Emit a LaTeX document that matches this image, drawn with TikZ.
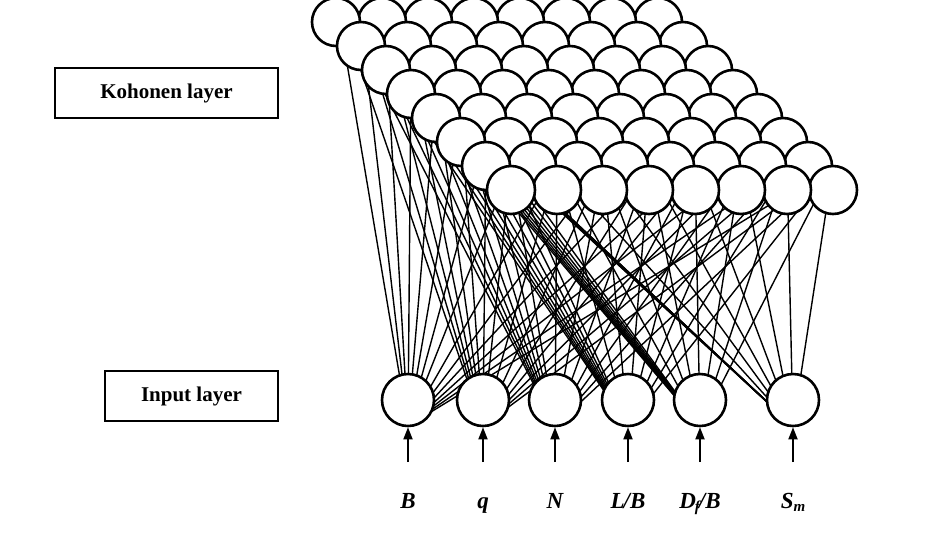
\documentclass[tikz,border=0pt]{standalone}
\usepackage{fontspec}
\setmainfont{Liberation Serif}
\usetikzlibrary{arrows.meta}
\begin{document}
\begin{tikzpicture}[x=1pt,y=-1pt,
  kn/.style={circle,draw,line width=2.6pt,fill=white,minimum size=48pt,inner sep=0pt},
  inn/.style={circle,draw,line width=2.6pt,fill=white,minimum size=52pt,inner sep=0pt},
  lbox/.style={draw,line width=1.4pt,font=\bfseries\fontsize{21}{24}\selectfont,inner sep=0pt,minimum height=50pt},
  conn/.style={line width=1.4pt},
  inarr/.style={line width=1.8pt,-{Triangle[length=12pt,width=9pt]}},
  var/.style={anchor=base,font=\bfseries\itshape\fontsize{23}{26}\selectfont}]
\useasboundingbox (0,0) rectangle (939,555);
\clip (0,0) rectangle (939,555);
\foreach \i/\x in {1/408,2/483,3/555,4/628,5/700,6/793}{
  \coordinate (i\i) at (\x,400);
}
\foreach \r in {0,...,7}{
  \foreach \c in {0,...,7}{
    \coordinate (k\r-\c) at ({511+46*\c-25*\r},{190-24*\r});
  }
}
\foreach \i in {1,...,6}{
  \foreach \c in {0,...,7}{
    \draw[conn] ([yshift=-26pt]i\i) -- ([yshift=24pt]k0-\c);
  }
  \foreach \r in {1,...,7}{
    \draw[conn] ([yshift=-26pt]i\i) -- ([yshift=24pt]k\r-0);
  }
}
\foreach \r in {7,6,...,0}{
  \foreach \c in {7,6,...,0}{
    \node[kn] (K\r-\c) at (k\r-\c) {};
  }
}
\foreach \i/\x/\l in {1/408/{B},2/483/{q},3/555/{N},4/628/{L\kern-1pt/B},5/700/{D\kern-1pt\raisebox{-3pt}{\fontsize{15}{15}\selectfont f}\kern-1pt/B},6/793/{S\raisebox{-3pt}{\fontsize{15}{15}\selectfont m}}}{
  \node[inn] (I\i) at (i\i) {};
  \coordinate (a\i) at (\x,462);
  \draw[inarr] (a\i) -- (I\i.south);
  \node[var] (v\i) at (\x,508) {\l};
}
\node[lbox,minimum width=223pt] (kl) at (166.5,93) {Kohonen layer};
\node[lbox,minimum width=173pt] (il) at (191.5,396) {Input layer};
\end{tikzpicture}
\end{document}
